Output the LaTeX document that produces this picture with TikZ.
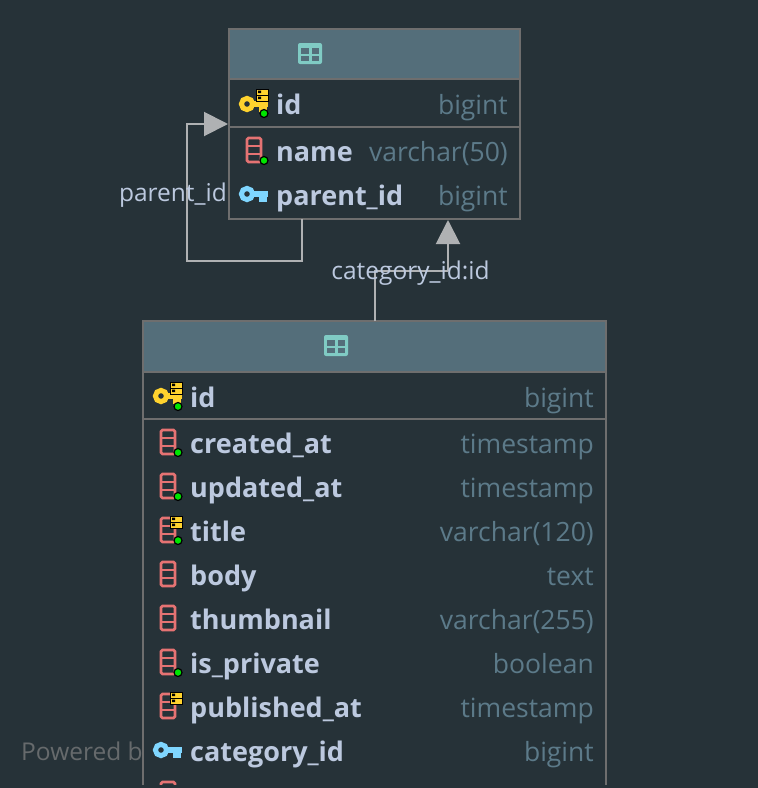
\documentclass[tikz,border=0pt]{standalone}
\usepackage{fontspec}
\setmainfont{Open Sans}
\usetikzlibrary{arrows.meta,calc}
\definecolor{bgdark}{HTML}{263238}
\definecolor{headfill}{HTML}{546E7A}
\definecolor{tblborder}{HTML}{6E6E6E}
\definecolor{connline}{HTML}{AFB1B3}
\definecolor{namecol}{HTML}{BCC9DF}
\definecolor{typecol}{HTML}{5C7A89}
\definecolor{poweredcol}{HTML}{666A6C}
\definecolor{colred}{HTML}{E57373}
\definecolor{keygold}{HTML}{FFD32E}
\definecolor{keyblue}{HTML}{7FD6FF}
\definecolor{tblicon}{HTML}{80CBC4}
\tikzset{
	tbl/.style={draw=tblborder, line width=2, fill=bgdark, anchor=north west, inner sep=0, outer sep=0},
	rowname/.style={anchor=base west, inner sep=0, text=namecol, font=\fontsize{27}{30}\selectfont\bfseries},
	rowtype/.style={anchor=base east, inner sep=0, text=typecol, font=\fontsize{26.5}{30}\selectfont},
	edgelabel/.style={inner sep=0, text=namecol, font=\fontsize{24.5}{28}\selectfont},
	conn/.style={draw=connline, line width=2},
	connarrow/.style={conn, -{Triangle[length=24, width=24, fill=connline]}},
}
\def\tableicon(#1,#2){\begin{scope}[shift={(#1,#2)}]
	\fill[tblicon, rounded corners=2] (-12,-10.5) rectangle (12,10.5);
	\foreach \cx in {-9,1.5} \foreach \cy in {-5.5,2}
		\fill[headfill] (\cx,\cy) rectangle ++(7.5,5.5);
\end{scope}}
\def\keyicon[#1](#2,#3){\begin{scope}[shift={(#2,#3)}]
	\draw[#1, line width=5] (18,0) circle (5.6);
	\fill[#1] (24,-3) rectangle (39,3);
	\fill[#1] (30,0) rectangle (38,8);
\end{scope}}
\def\colicon(#1,#2){\begin{scope}[shift={(#1,#2)}]
	\draw[colred, line width=2.8, rounded corners=1.5] (18,-13) rectangle (32,11);
	\draw[colred, line width=2.4] (18,-5) -- (32,-5) (18,3) -- (32,3);
\end{scope}}
\def\greendot(#1,#2){\draw[black, fill=green!90!black, line width=1.2] ($(#1,#2)+(35,9.5)$) circle (4);}
\def\idxicon(#1,#2){\begin{scope}[shift={(#1,#2)}]
	\draw[black, fill=keygold, line width=0.8] (27,-15) rectangle (39,-9);
	\draw[black, fill=keygold, line width=0.8] (27,-9) rectangle (39,-3);
	\fill[black] (29,-13.5) rectangle (32,-11) (29,-7.5) rectangle (32,-5);
\end{scope}}

\begin{document}
\begin{tikzpicture}[x=1pt, y=-1pt]
		%%%%% BACKGROUND %%%%%
		\useasboundingbox (0,0) rectangle (758,788);
		\fill[bgdark] (0,0) rectangle (758,788);
		\node[anchor=base west, inner sep=0, text=poweredcol, font=\fontsize{24.5}{28}\selectfont] (powered) at (21,760) {Powered b};
		
		%%%%% PARENT TABLE %%%%%
		\node[tbl, minimum width=291, minimum height=190] (parenttbl) at (229,29) {};
		\fill[headfill] (parenttbl.north west) rectangle (520,78);
		\draw[tblborder, line width=2] (229,78.5) -- (520,78.5) (229,127) -- (520,127);
		\draw[tblborder, line width=2] (parenttbl.north west) rectangle (parenttbl.south east);
		\tableicon(310,53.5)
		
		\foreach \rowy/\rname/\rtype/\rid in {104/id/bigint/a, 151/name/varchar(50)/b, 195/parent\_id/bigint/c} {
			\node[rowname] (top\rid name) at (276,\rowy+10) {\rname};
			\node[rowtype] (top\rid type) at (508,\rowy+10) {\rtype};
		}
		\keyicon[keygold](229,104)
		\idxicon(229,104)
		\greendot(229,104)
		\colicon(229,151)
		\greendot(229,151)
		\keyicon[keyblue](229,194)
		
		%%%%% CONNECTORS %%%%%
		\coordinate (loopout) at ($(parenttbl.south west)!0.25!(parenttbl.south east)$);
		\coordinate (loopcorner) at (187,261);
		\coordinate (loopin) at (228,124);
		\draw[connarrow] (loopout) |- (loopcorner) |- (loopin);
		\node[edgelabel, anchor=base east] (looplabel) at (227,201) {parent\_id};
		
		%%%%% POST TABLE %%%%%
		\begin{scope}
			\clip (0,0) rectangle (758,784);
			\node[tbl, minimum width=463, minimum height=640] (posttbl) at (143,321) {};
			\fill[headfill] (posttbl.north west) rectangle (606,371);
			\draw[tblborder, line width=2] (143,371.5) -- (606,371.5) (143,419) -- (606,419);
			\draw[tblborder, line width=2] (posttbl.north west) rectangle (posttbl.south east);
			\tableicon(336,345.5)
			
			\foreach \rowy/\rname/\rtype/\rid in {397/id/bigint/a, 443/created\_at/timestamp/b, 487/updated\_at/timestamp/c, 531/title/varchar(120)/d, 575/body/text/e, 619/thumbnail/varchar(255)/f, 663/is\_private/boolean/g, 707/published\_at/timestamp/h, 751/category\_id/bigint/i} {
				\node[rowname] (post\rid name) at (190,\rowy+10) {\rname};
				\node[rowtype] (post\rid type) at (594,\rowy+10) {\rtype};
			}
			\keyicon[keygold](143,396)
			\idxicon(143,397)
			\greendot(143,397)
			\foreach \rowy in {443,487,531,575,619,663,707,795} {
				\colicon(143,\rowy)
			}
			\foreach \rowy in {443,487,531,663} {
				\greendot(143,\rowy)
			}
			\idxicon(143,531)
			\idxicon(143,707)
			\keyicon[keyblue](143,750)
		\end{scope}
		
		\coordinate (fkcorner) at (448,271);
		\coordinate (fkin) at (448,220);
		\draw[conn] (posttbl.north) |- (fkcorner);
		\draw[connarrow] (fkcorner) -- (fkin);
		\node[edgelabel] (fklabel) at (410.5,273) {category\_id:id};
	\end{tikzpicture}
\end{document}
